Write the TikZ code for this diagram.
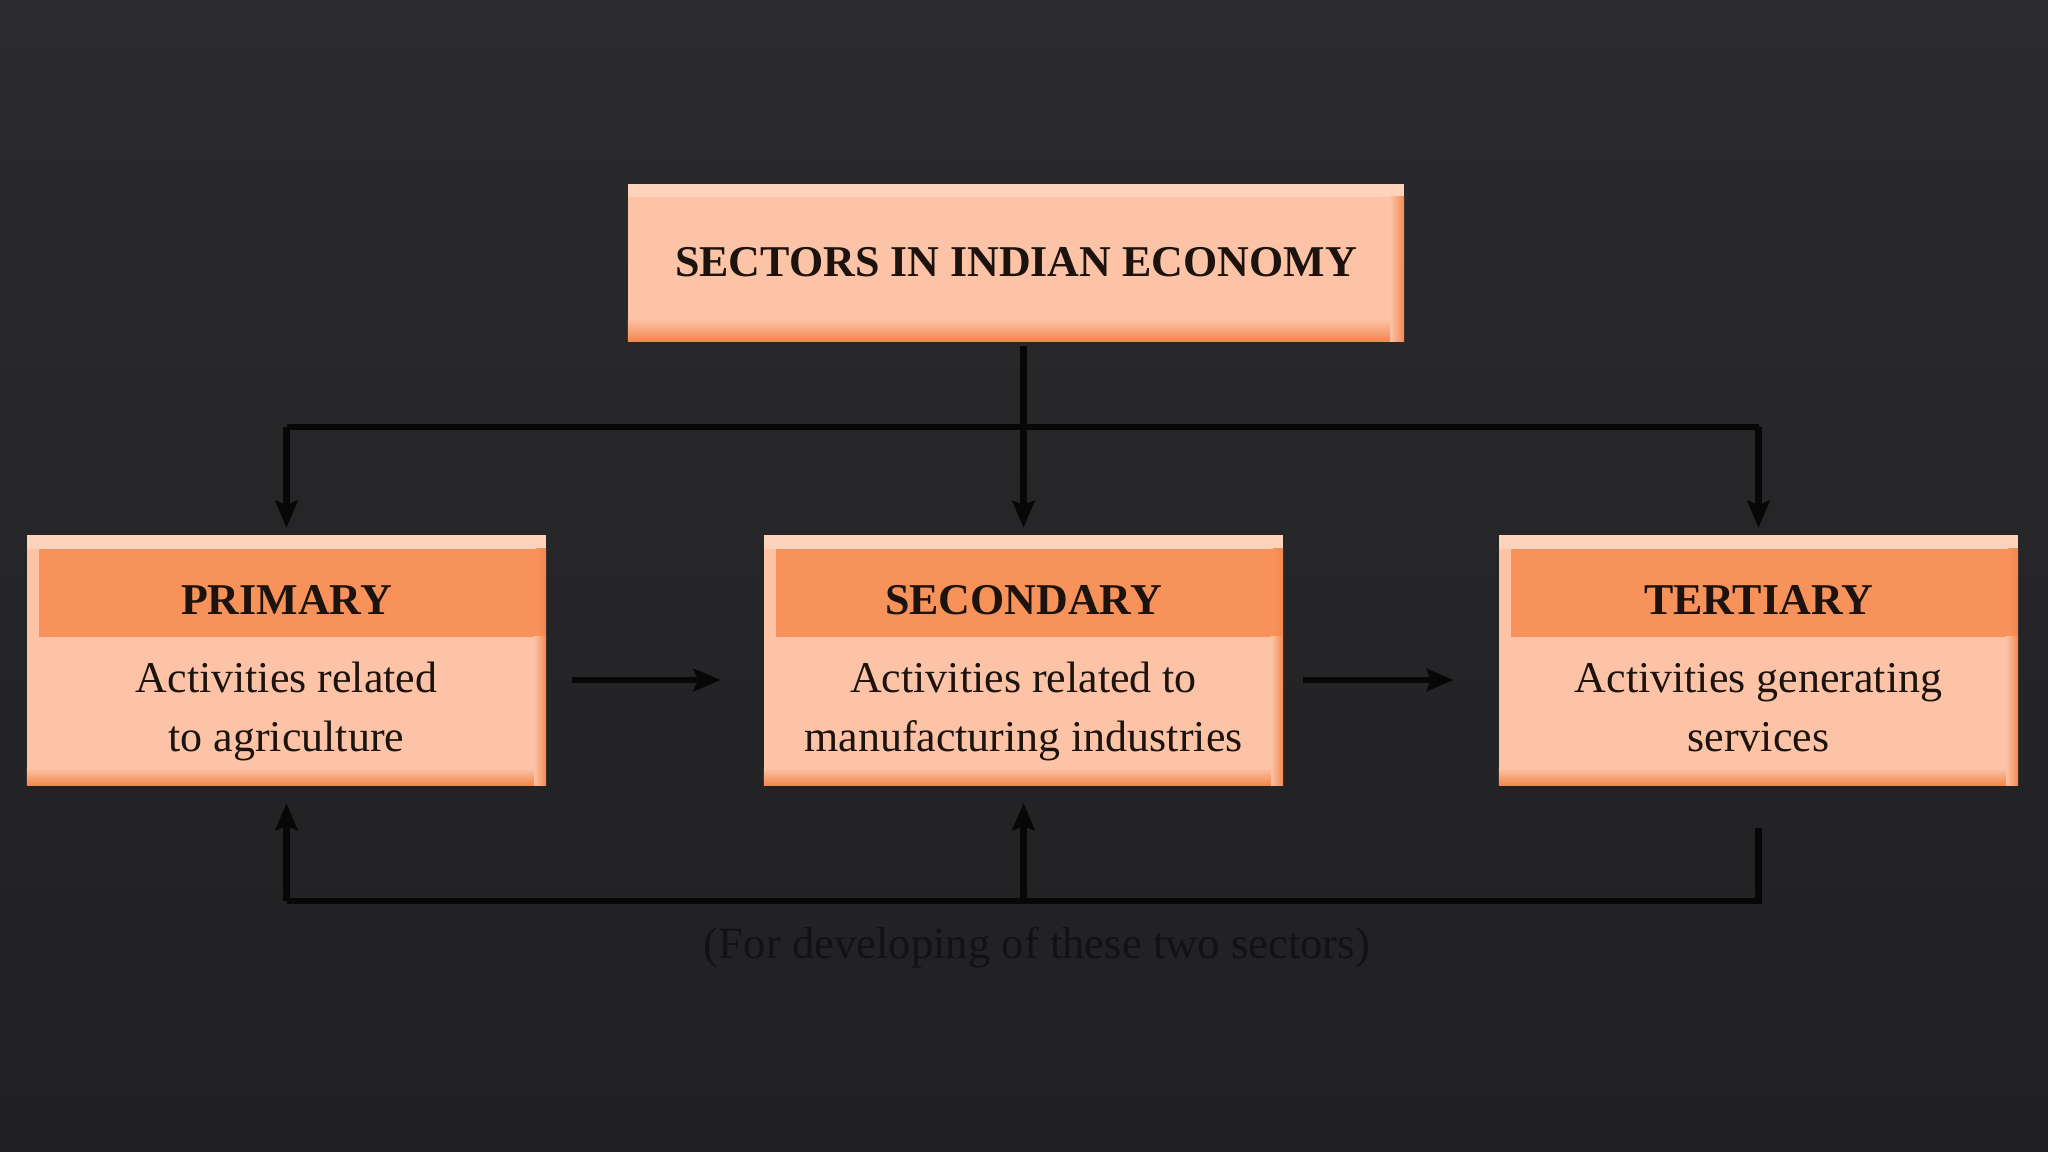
\documentclass[tikz,border=0pt]{standalone}
\usepackage{fontspec}
\setmainfont{Liberation Serif}
\usetikzlibrary{arrows.meta,calc}
\definecolor{bgtop}{HTML}{2B2B2E}
\definecolor{bgbot}{HTML}{202023}
\definecolor{peach}{HTML}{FCC3A6}
\definecolor{peachlt}{HTML}{FDD2BA}
\definecolor{edgeor}{HTML}{F3884F}
\definecolor{bandor}{HTML}{F8925B}
\definecolor{ink}{HTML}{1C120E}
\definecolor{capink}{HTML}{121214}
\definecolor{lineink}{HTML}{070707}
\newcommand{\txtsize}{\fontsize{12.5pt}{16.8pt}\selectfont}
\begin{document}
\begin{tikzpicture}[x=0.01cm,y=-0.01cm,
  sectorbox/.style={rectangle, fill=peach, minimum width=5.19cm, minimum height=2.5cm, inner sep=0pt, outer sep=0pt},
  topbox/.style={rectangle, fill=peach, minimum width=7.76cm, minimum height=1.57cm, inner sep=0pt, outer sep=0pt, text=ink, font=\txtsize\bfseries},
  headtxt/.style={text=ink, font=\txtsize\bfseries, inner sep=0pt},
  bodytxt/.style={text=ink, font=\txtsize, align=center, inner sep=0pt},
  conn/.style={draw=lineink, line width=1.75pt},
  arr/.style={conn, -{Stealth[length=0.27cm,width=0.22cm,inset=0.04cm]}},
  notetxt/.style={text=capink, font=\fontsize{12.7pt}{15pt}\selectfont, inner sep=0pt}
]
\useasboundingbox (0,0) rectangle (2048,1152);
\shade[top color=bgtop, bottom color=bgbot] (0,0) rectangle (2048,1152);

% top box
\node[topbox] (top) at (1016,262.5) {};
\fill[peachlt] (top.north west) rectangle ($(top.north east)+(0,13)$);
\shade[left color=peach, right color=edgeor] ($(top.north east)+(-14,13)$) rectangle (top.south east);
\shade[top color=peach, bottom color=edgeor] ($(top.south west)+(0,-22)$) rectangle ($(top.south east)+(-14,0)$);
\node[headtxt] (toptxt) at (top.center) {SECTORS IN INDIAN ECONOMY};

% sector boxes
\node[sectorbox] (pri) at (286.5,660) {};
\node[sectorbox] (sec) at (1023.5,660) {};
\node[sectorbox] (ter) at (1758.5,660) {};
\foreach \n in {pri,sec,ter}{
  \fill[peachlt] (\n.north west) rectangle ($(\n.north east)+(0,14)$);
  \fill[bandor] ($(\n.north west)+(12,14)$) rectangle ($(\n.north east)+(-10,102)$);
  \shade[left color=bandor, right color=edgeor] ($(\n.north east)+(-10,14)$) rectangle ($(\n.north east)+(0,102)$);
  \shade[left color=peach, right color=edgeor] ($(\n.north east)+(-12,102)$) rectangle (\n.south east);
  \shade[top color=peach, bottom color=edgeor] ($(\n.south west)+(0,-17)$) rectangle ($(\n.south east)+(-12,0)$);
}
\node[headtxt] (prih) at ($(pri.north)+(0,65)$) {PRIMARY};
\node[bodytxt] (prib) at ($(pri.north)+(0,175)$) {\strut Activities related\\\strut to agriculture};
\node[headtxt] (sech) at ($(sec.north)+(0,65)$) {SECONDARY};
\node[bodytxt] (secb) at ($(sec.north)+(0,175)$) {\strut Activities related to\\\strut manufacturing industries};
\node[headtxt] (terh) at ($(ter.north)+(0,65)$) {TERTIARY};
\node[bodytxt] (terb) at ($(ter.north)+(0,175)$) {\strut Activities generating\\\strut services};

% top connectors
\coordinate (bus) at (1022,427);
\draw[arr, shorten <=0.05cm, shorten >=0.07cm] (top.south -| sec) -- (sec.north);
\draw[conn] (bus -| pri) -- (bus -| ter);
\draw[arr, shorten >=0.07cm] (bus -| pri) -- (pri.north);
\draw[arr, shorten >=0.07cm] (bus -| ter) -- (ter.north);

% horizontal arrows
\draw[arr, shorten <=0.26cm, shorten >=0.43cm] ([yshift=-0.2cm]pri.east) -- ([yshift=-0.2cm]sec.west);
\draw[arr, shorten <=0.2cm, shorten >=0.45cm] ([yshift=-0.2cm]sec.east) -- ([yshift=-0.2cm]ter.west);

% bottom connectors
\coordinate (bot) at (1022,901);
\draw[conn, shorten <=0.43cm] (ter.south) |- (bot -| pri);
\draw[arr, shorten >=0.18cm] (bot -| pri) -- (pri.south);
\draw[arr, shorten >=0.18cm] (bot -| sec) -- (sec.south);

\node[notetxt] (note) at (1037,948) {(For developing of these two sectors)};
\end{tikzpicture}
\end{document}
